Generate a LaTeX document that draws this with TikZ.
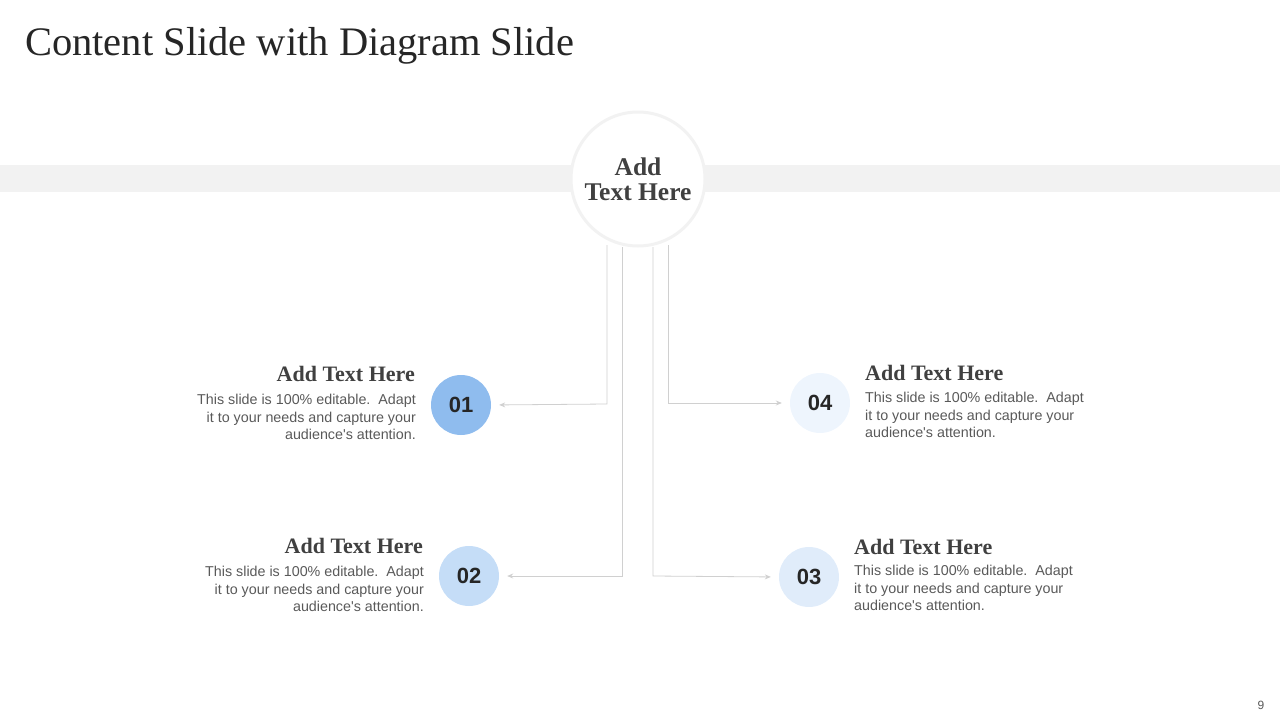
\documentclass[tikz,border=0pt]{standalone}
\usepackage{fontspec}
\setmainfont{Liberation Serif}
\newfontfamily\bodyf{Liberation Sans}
\usetikzlibrary{arrows.meta}
\definecolor{band}{HTML}{F2F2F2}
\definecolor{ln}{HTML}{D0D0D0}
\definecolor{txt}{HTML}{404040}
\definecolor{bt}{HTML}{595959}
\definecolor{cA}{HTML}{8FBCEE}
\definecolor{cB}{HTML}{C5DDF7}
\definecolor{cC}{HTML}{E0ECFA}
\definecolor{cD}{HTML}{EEF5FD}
\begin{document}
\begin{tikzpicture}[x=1pt,y=-1pt,
  head/.style={inner sep=0pt,font=\fontsize{22}{24}\selectfont\bfseries,text=txt},
  body/.style={inner sep=0pt,font=\bodyf\fontsize{14.3}{17.5}\selectfont,text=bt},
  num/.style={circle,minimum size=60pt,inner sep=0pt,font=\bodyf\fontsize{22}{24}\selectfont\bfseries,text=black!85},
  conn/.style={draw=ln,line width=0.8pt,shorten >=8pt,-{Stealth[length=6pt,width=5pt]}}]
\useasboundingbox (0,0) rectangle (1280,720);
\fill[band] (0,165) rectangle (1280,192);
\node[anchor=west,inner sep=0pt,font=\fontsize{40.5}{44}\selectfont,text=black!85] (title) at (25,46) {Content Slide with Diagram Slide};
\node[circle,draw=band,line width=3pt,fill=white,minimum size=134pt,inner sep=0pt,align=center,font=\fontsize{25.5}{25}\selectfont\bfseries,text=txt] (hub) at (638,179) {Add\\Text Here};
\node[num,fill=cA] (n1) at (461,405) {01};
\node[num,fill=cB] (n2) at (469,576) {02};
\node[num,fill=cC] (n3) at (809,577) {03};
\node[num,fill=cD] (n4) at (820,403) {04};
\coordinate (p1) at (607,245); \coordinate (q1) at (607,404);
\coordinate (p2) at (622,247); \coordinate (q2) at (622,576);
\coordinate (p3) at (653,247); \coordinate (q3) at (653,576);
\coordinate (p4) at (668,245); \coordinate (q4) at (668,403);
\draw[conn] (p1) -- (q1) -- (n1.east);
\draw[conn] (p2) -- (q2) -- (n2.east);
\draw[conn] (p3) -- (q3) -- (n3.west);
\draw[conn] (p4) -- (q4) -- (n4.west);
\node[head,anchor=east] (h1) at (415,374) {Add Text Here};
\node[body,anchor=north east,align=right] (b1) at (416,394) {This slide is 100\% editable.\ \ Adapt\\it to your needs and capture your\\audience's attention.};
\node[head,anchor=east] (h2) at (423,546) {Add Text Here};
\node[body,anchor=north east,align=right] (b2) at (424,566) {This slide is 100\% editable.\ \ Adapt\\it to your needs and capture your\\audience's attention.};
\node[head,anchor=west] (h4) at (865,373) {Add Text Here};
\node[body,anchor=north west,align=left] (b4) at (865,392) {This slide is 100\% editable.\ \ Adapt\\it to your needs and capture your\\audience's attention.};
\node[head,anchor=west] (h3) at (854,547) {Add Text Here};
\node[body,anchor=north west,align=left] (b3) at (854,565) {This slide is 100\% editable.\ \ Adapt\\it to your needs and capture your\\audience's attention.};
\node[inner sep=0pt,font=\bodyf\fontsize{12}{14}\selectfont,text=bt] (pg) at (1261,705) {9};
\end{tikzpicture}
\end{document}
